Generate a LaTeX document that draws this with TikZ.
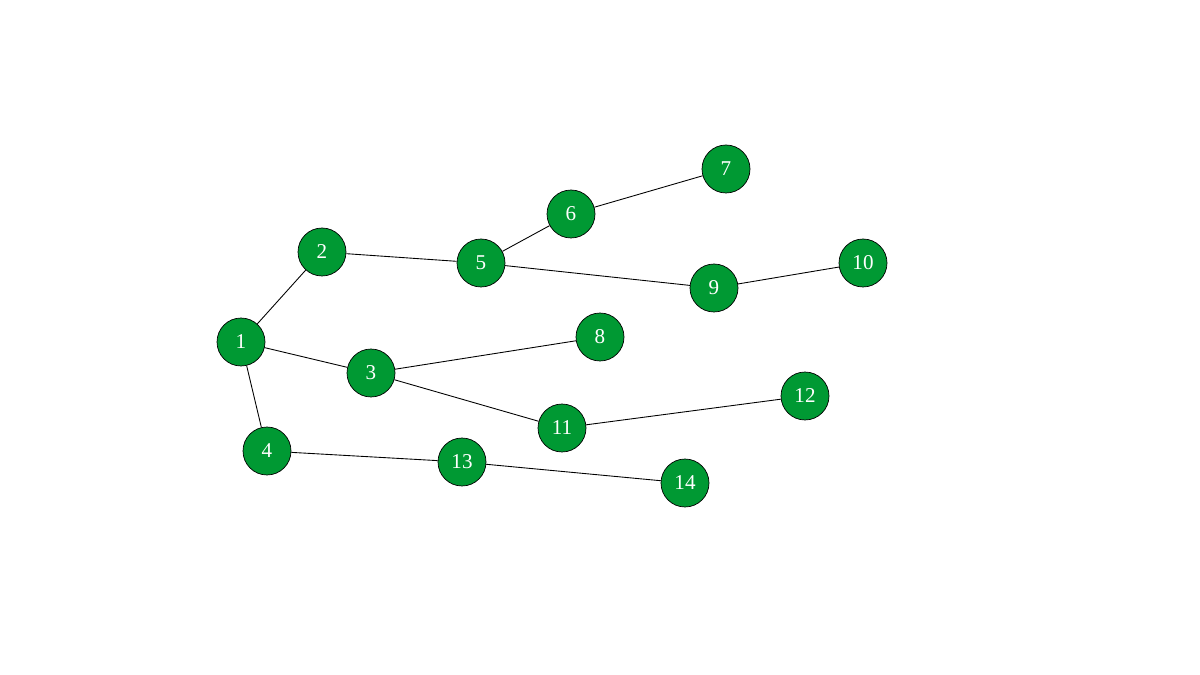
\documentclass[tikz,border=0pt]{standalone}
\usepackage{fontspec}
\setmainfont{Liberation Serif}
\definecolor{ng}{HTML}{009933}
\begin{document}
\begin{tikzpicture}[x=0.02cm,y=-0.02cm,
  vx/.style={circle,draw=black,fill=ng,minimum size=0.96cm,inner sep=0pt,text=white,font=\fontsize{12}{12}\selectfont},
  ed/.style={draw=black,line width=0.5pt}]
\useasboundingbox (0,0) rectangle (1200,675);
\node[vx] (n1) at (241,342) {1};
\node[vx] (n2) at (322,252) {2};
\node[vx] (n3) at (371,373) {3};
\node[vx] (n4) at (267,451) {4};
\node[vx] (n5) at (481,263) {5};
\node[vx] (n6) at (571,214) {6};
\node[vx] (n7) at (726,169) {7};
\node[vx] (n8) at (600,337) {8};
\node[vx] (n9) at (714,288) {9};
\node[vx] (n10) at (863,263) {10};
\node[vx] (n11) at (562,428) {11};
\node[vx] (n12) at (805,396) {12};
\node[vx] (n13) at (462,462) {13};
\node[vx] (n14) at (685,483) {14};
\draw[ed] (n1)--(n2) (n1)--(n3) (n1)--(n4) (n2)--(n5) (n5)--(n6) (n6)--(n7)
  (n5)--(n9) (n9)--(n10) (n3)--(n8) (n3)--(n11) (n11)--(n12) (n4)--(n13) (n13)--(n14);
\end{tikzpicture}
\end{document}
